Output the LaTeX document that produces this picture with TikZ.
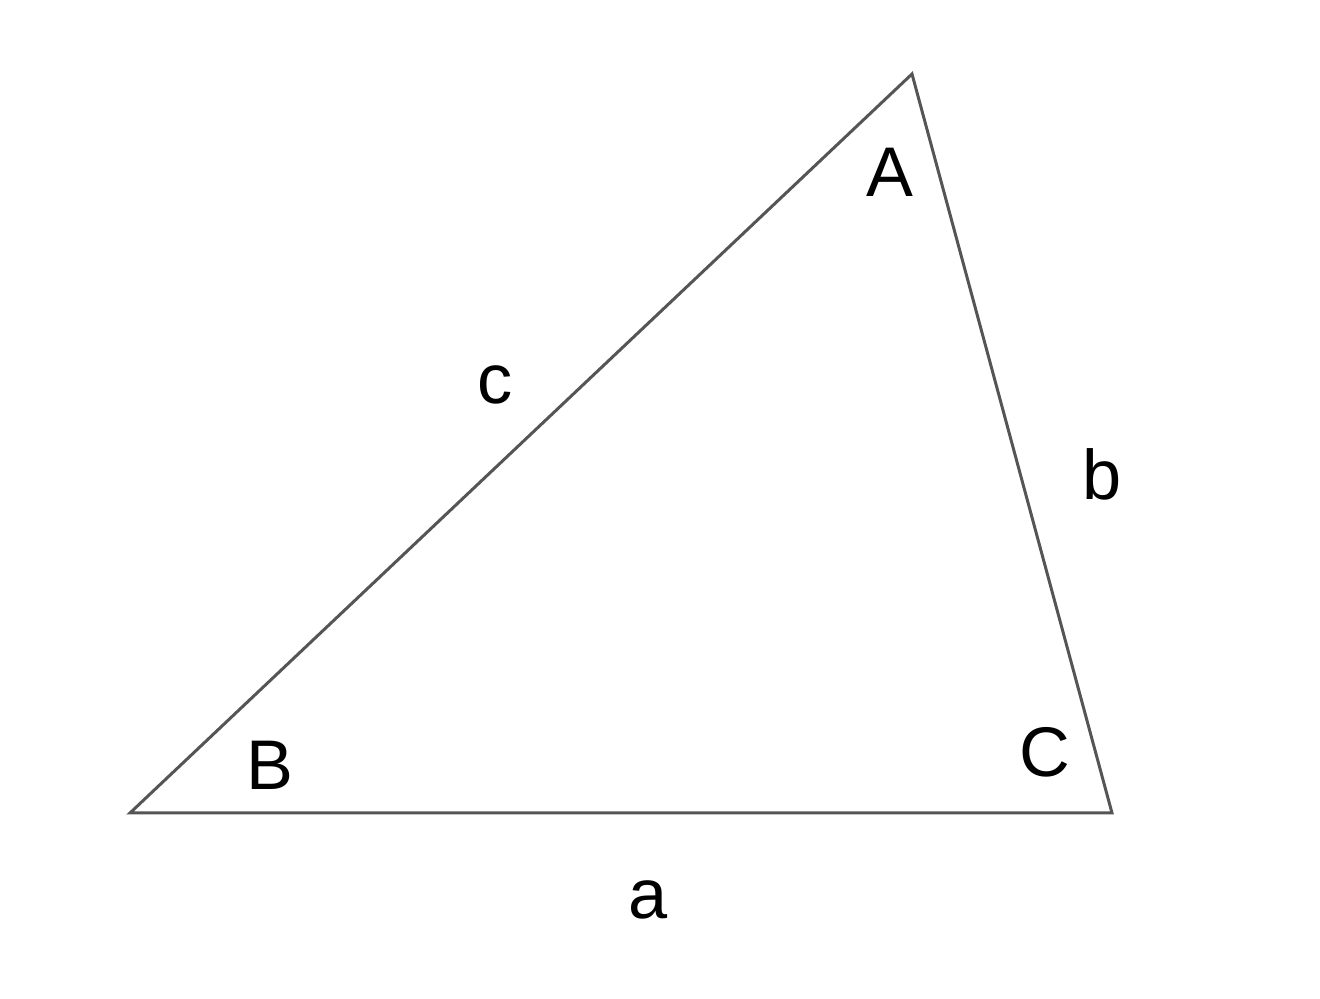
\documentclass[tikz,border=0pt]{standalone}
\usepackage{fontspec}
\setmainfont{Liberation Sans}
\definecolor{edgegray}{HTML}{555555}
\begin{document}
\begin{tikzpicture}[
	lbl/.style={inner sep=0pt, font=\fontsize{40}{48}\selectfont}
	]
		\useasboundingbox (0,0) rectangle (26.4,19.98);
		\coordinate (B) at (2.6,3.72);
		\coordinate (A) at (18.24,18.5);
		\coordinate (C) at (22.24,3.72);
		\draw[edgegray, line width=1.7pt] (B) -- (A) -- (C) -- cycle;
		\node[lbl] (labA) at (17.8,16.54) {A};
		\node[lbl] (labB) at (5.4,4.68) {B};
		\node[lbl] (labC) at (20.9,4.94) {C};
		\node[lbl] (labc) at (9.9,12.28) {c};
		\node[lbl] (labb) at (22.04,10.5) {b};
		\node[lbl] (laba) at (12.96,1.98) {a};
	\end{tikzpicture}
\end{document}
